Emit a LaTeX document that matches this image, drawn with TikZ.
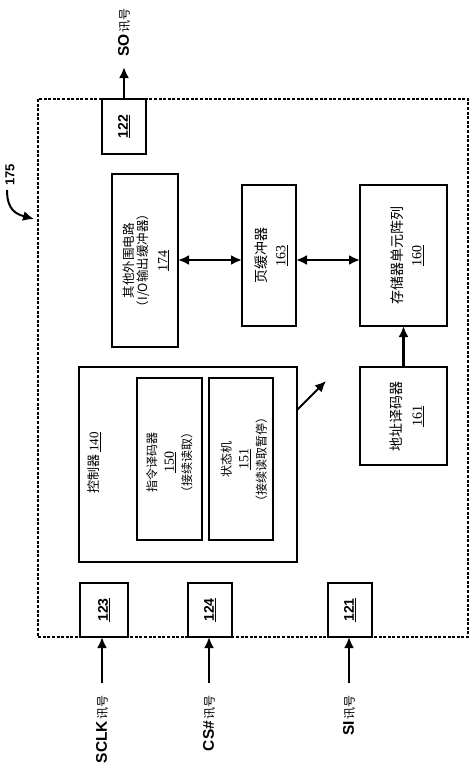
\documentclass[tikz,border=0pt]{standalone}
\usepackage{fontspec}
\setmainfont{Liberation Serif}
\setsansfont{Liberation Sans}
\newfontfamily\cjk{Noto Sans CJK SC}
\usetikzlibrary{arrows.meta,calc}
\tikzset{
  box/.style={draw, line width=2.3pt, inner sep=0pt, outer sep=0pt, fill=white},
  rtxt/.style={rotate=90, align=center, inner sep=0pt},
  tip/.style={-{Latex[length=11pt,width=10pt]}},
  arr/.style={line width=2.2pt, tip},
  darr/.style={line width=2.2pt, {Latex[length=11pt,width=10pt]}-{Latex[length=11pt,width=10pt]}},
  pinnum/.style={rotate=90, inner sep=0pt, font=\sffamily\bfseries\fontsize{14}{14}\selectfont},
  sig/.style={rotate=90, inner sep=0pt},
  dashbox/.style={line width=2.2pt, dash pattern=on 3pt off 1.6pt},
}
\newcommand{\sigtxt}[1]{{\sffamily\bfseries\fontsize{15.5}{15.5}\selectfont #1}\,{\cjk\fontsize{12}{12}\selectfont 讯号}}
\begin{document}
\begin{tikzpicture}[x=1pt,y=-1pt]
\useasboundingbox (0,0) rectangle (474,766);
% outer dashed boundary
\draw[dashbox] (38,99) rectangle (468,637);

% boxes
\node[box, minimum width=44pt, minimum height=55pt] (n122) at (124,126.5) {};
\node[box, minimum width=66pt, minimum height=173pt] (n174) at (145,260.5) {};
\node[box, minimum width=54pt, minimum height=141pt] (n163) at (269,255.5) {};
\node[box, minimum width=87pt, minimum height=141pt] (n160) at (403.5,255.5) {};
\node[box, minimum width=87pt, minimum height=98pt] (n161) at (403.5,416) {};
\node[box, minimum width=218pt, minimum height=195pt] (n140) at (188,464.5) {};
\node[box, minimum width=65pt, minimum height=162pt] (n150) at (169.5,459) {};
\node[box, minimum width=64pt, minimum height=162pt] (n151) at (241,459) {};
\node[box, minimum width=48pt, minimum height=54pt] (n123) at (104,610) {};
\node[box, minimum width=44pt, minimum height=54pt] (n124) at (210,610) {};
\node[box, minimum width=44pt, minimum height=54pt] (n121) at (350,610) {};

% texts in boxes
\node[pinnum] (t122) at (n122) {\underline{122}};
\node[pinnum] (t123) at (n123) {\underline{123}};
\node[pinnum] (t124) at (n124) {\underline{124}};
\node[pinnum] (t121) at (n121) {\underline{121}};

\node[rtxt, font=\fontsize{12.5}{14.5}\selectfont] (t174) at (146,260.5)
  {{\cjk 其他外围电路}\\{\cjk （I/O输出缓冲器）}\\[5pt]{\fontsize{14}{14}\selectfont\underline{174}}};
\node[rtxt, font=\fontsize{14}{19}\selectfont] (t163) at (271,255.5)
  {{\cjk 页缓冲器}\\\underline{163}};
\node[rtxt, font=\fontsize{14}{19}\selectfont] (t160) at (407,255.5)
  {{\cjk 存储器单元阵列}\\\underline{160}};
\node[rtxt, font=\fontsize{14}{20}\selectfont] (t161) at (407,416)
  {{\cjk 地址译码器}\\\underline{161}};
\node[rtxt, font=\fontsize{13}{13}\selectfont] (t140) at (94,463)
  {{\cjk 控制器}\ \underline{140}};
\node[rtxt, font=\fontsize{12}{17.5}\selectfont] (t150) at (169.5,462)
  {{\cjk 指令译码器}\\{\fontsize{14}{14}\selectfont\underline{150}}\\{\cjk （接续读取）}};
\node[rtxt, font=\fontsize{12}{17.5}\selectfont] (t151) at (244,459)
  {{\cjk 状态机}\\{\fontsize{14}{14}\selectfont\underline{151}}\\{\cjk （接续读取暂停）}};

% internal connectors
\draw[darr] (n174.east |- 0,260) -- (n163.west |- 0,260);
\draw[darr] (n163.east |- 0,260) -- (n160.west |- 0,260);
\draw[arr] (n161.north) -- (n160.south);
\coordinate (c140) at (326,381);
\draw[line width=2pt, tip] ($(n140.north east)!0.22!(n140.south east)$) -- (c140);

% signals
\node[sig, anchor=west] (lso) at (124,57) {\sigtxt{SO}};
\draw[arr, shorten >=10pt] (n122.north) -- (lso.west);

\node[sig, anchor=east] (lsclk) at (102,695) {\sigtxt{SCLK}};
\node[sig, anchor=east] (lcs) at (209,695) {\sigtxt{CS\#}};
\node[sig, anchor=east] (lsi) at (349,695) {\sigtxt{SI}};
\draw[arr, shorten <=12pt] (lsclk.east) -- (lsclk.east |- n123.south);
\draw[arr, shorten <=12pt] (lcs.east) -- (lcs.east |- n124.south);
\draw[arr, shorten <=12pt] (lsi.east) -- (lsi.east |- n121.south);

% 175 label
\node[pinnum, font=\sffamily\bfseries\fontsize{13}{13}\selectfont] (l175) at (10,175) {175};
\coordinate (c175a) at (7,190);
\coordinate (c175b) at (34,219);
\draw[line width=2pt, tip] (c175a) .. controls (7,210) and (16,214) .. (c175b);
\end{tikzpicture}
\end{document}
